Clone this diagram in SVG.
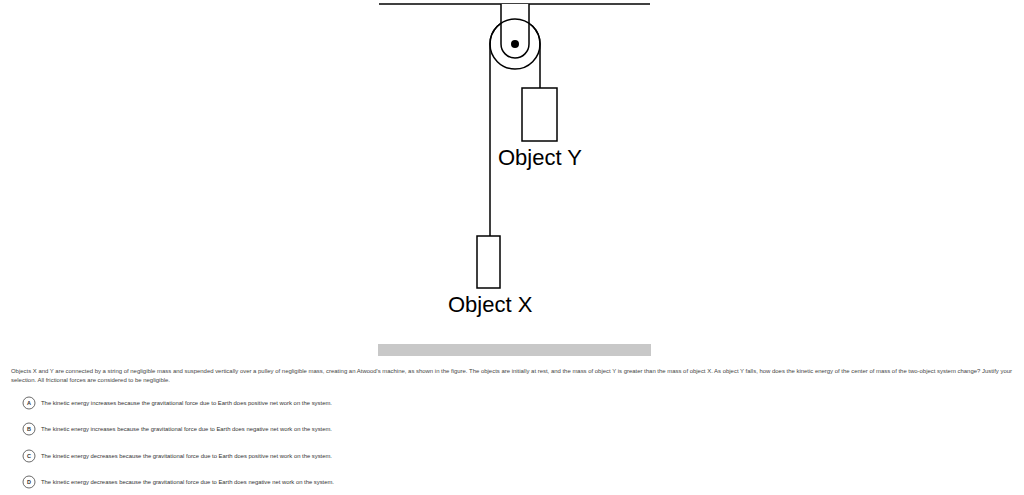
<svg xmlns="http://www.w3.org/2000/svg" width="1024" height="495" viewBox="0 0 1024 495">
<style>
.ln{stroke:#000;stroke-width:1.5;fill:none}
.box{stroke:#000;stroke-width:1.5;fill:#fff}
.lbl{font-family:"Liberation Sans",Arial,sans-serif;font-size:22px;fill:#000}
.q{font-family:"Liberation Sans",Arial,sans-serif;font-size:6.2px;fill:#444}
.opt{font-family:"Liberation Sans",Arial,sans-serif;font-size:6.2px;fill:#333}
.c{fill:#fff;stroke:#444;stroke-width:0.8}
.cl{font-family:"Liberation Sans",Arial,sans-serif;font-size:5.5px;font-weight:bold;fill:#333;text-anchor:middle}
</style>
<rect width="1024" height="495" fill="#fff"/>
<g id="ceiling"><line class="ln" x1="379" y1="4" x2="650" y2="4"/></g>
<g id="pulley">
<circle class="box" cx="515" cy="44" r="25"/>
<path class="box" d="M501 4 V44 A14 14 0 0 0 529 44 V4"/>
<circle cx="515" cy="44" r="4" fill="#000"/>
</g>
<g id="connectors">
<path class="ln" d="M490 236 V44 A25 25 0 0 1 540 44 V88"/>
</g>
<g id="objectY"><rect class="box" x="522" y="88" width="35" height="53"/><text class="lbl" x="498" y="165">Object Y</text></g>
<g id="objectX"><rect class="box" x="477" y="236" width="23" height="52"/><text class="lbl" x="448" y="312">Object X</text></g>
<g id="floor"><rect x="378" y="344" width="273" height="12" fill="#c8c8c8"/></g>
<g id="question">
<text class="q" x="11" y="373" textLength="1001" lengthAdjust="spacingAndGlyphs">Objects X and Y are connected by a string of negligible mass and suspended vertically over a pulley of negligible mass, creating an Atwood's machine, as shown in the figure. The objects are initially at rest, and the mass of object Y is greater than the mass of object X. As object Y falls, how does the kinetic energy of the center of mass of the two-object system change? Justify your</text>
<text class="q" x="11" y="382" textLength="159" lengthAdjust="spacingAndGlyphs">selection. All frictional forces are considered to be negligible.</text>
</g>
<g id="optA"><circle class="c" cx="29" cy="403" r="6"/><text class="cl" x="29" y="405">A</text><text class="opt" x="41" y="405" textLength="291" lengthAdjust="spacingAndGlyphs">The kinetic energy increases because the gravitational force due to Earth does positive net work on the system.</text></g>
<g id="optB"><circle class="c" cx="29" cy="429" r="6"/><text class="cl" x="29" y="431">B</text><text class="opt" x="41" y="431" textLength="291" lengthAdjust="spacingAndGlyphs">The kinetic energy increases because the gravitational force due to Earth does negative net work on the system.</text></g>
<g id="optC"><circle class="c" cx="29" cy="456" r="6"/><text class="cl" x="29" y="458">C</text><text class="opt" x="41" y="458" textLength="291" lengthAdjust="spacingAndGlyphs">The kinetic energy decreases because the gravitational force due to Earth does positive net work on the system.</text></g>
<g id="optD"><circle class="c" cx="29" cy="482" r="6"/><text class="cl" x="29" y="484">D</text><text class="opt" x="41" y="484" textLength="293" lengthAdjust="spacingAndGlyphs">The kinetic energy decreases because the gravitational force due to Earth does negative net work on the system.</text></g>
</svg>
